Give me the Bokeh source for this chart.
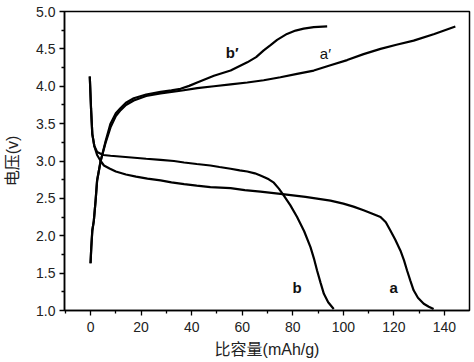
from bokeh.plotting import figure
from bokeh.models import Range1d, FixedTicker, Label, CustomJSTickFormatter
from bokeh.embed import file_html
from bokeh.resources import INLINE

# discharge curve a
a_x = [-0.3, 0.2, 0.7, 1.5, 2.6, 4.0, 5.3, 7.5, 10, 14, 18, 22.5, 27.7, 32, 37, 42, 47.4, 55.4, 61, 67.2, 75.1, 85, 94.9, 100, 104, 108, 111, 114.7, 116.8, 118.6, 120.5, 122.6, 124, 125.2, 126.5, 127.8, 129.5, 131.8, 133.8, 135.7]
a_y = [4.13, 3.7, 3.36, 3.2, 3.08, 3.0, 2.94, 2.9, 2.86, 2.82, 2.79, 2.765, 2.74, 2.715, 2.69, 2.67, 2.65, 2.637, 2.61, 2.59, 2.56, 2.52, 2.47, 2.43, 2.39, 2.34, 2.30, 2.25, 2.18, 2.07, 1.95, 1.80, 1.67, 1.535, 1.40, 1.27, 1.17, 1.09, 1.05, 1.02]
# discharge curve b
b_x = [-0.3, 0.2, 0.7, 1.5, 2.6, 5.0, 7.9, 15, 22, 27.7, 33, 37, 42, 47.4, 51, 55.4, 59, 62, 65, 67.2, 69, 70.5, 72.5, 74.5, 76.4, 79, 81.7, 84.5, 87, 88.5, 89.6, 91, 92.3, 94, 96.2]
b_y = [4.13, 3.7, 3.36, 3.2, 3.12, 3.08, 3.07, 3.05, 3.03, 3.016, 3.0, 2.98, 2.96, 2.94, 2.92, 2.896, 2.875, 2.86, 2.835, 2.806, 2.78, 2.755, 2.71, 2.63, 2.54, 2.41, 2.25, 2.06, 1.847, 1.68, 1.535, 1.37, 1.223, 1.11, 1.02]
# charge curve a'
ac_x = [0.0, 0.3, 0.7, 1.3, 2.0, 2.6, 4.0, 6.0, 7.9, 10.0, 11.9, 14.0, 17.1, 22.0, 27.7, 35.6, 42.2, 48.8, 55.4, 62.0, 68.5, 75.1, 81.7, 88.3, 94.9, 101.5, 108.0, 114.7, 121.0, 127.8, 136.0, 144.3]
ac_y = [1.633, 1.85, 2.07, 2.2, 2.47, 2.74, 3.0, 3.25, 3.45, 3.6, 3.68, 3.75, 3.81, 3.87, 3.905, 3.94, 3.975, 4.0, 4.025, 4.05, 4.08, 4.12, 4.165, 4.21, 4.28, 4.35, 4.43, 4.50, 4.555, 4.61, 4.70, 4.80]
# charge curve b'
bc_x = [0.0, 0.3, 0.7, 1.3, 2.0, 2.6, 4.0, 6.0, 7.9, 10.0, 11.9, 14.0, 17.1, 22.0, 27.7, 32.0, 35.6, 39.0, 42.2, 48.8, 55.4, 62.0, 65.5, 68.5, 71.2, 73.8, 77.7, 81.1, 84.3, 88.3, 93.6]
bc_y = [1.633, 1.85, 2.07, 2.2, 2.47, 2.74, 3.0, 3.27, 3.5, 3.64, 3.71, 3.78, 3.84, 3.89, 3.925, 3.945, 3.966, 4.005, 4.05, 4.14, 4.21, 4.32, 4.39, 4.48, 4.55, 4.62, 4.70, 4.745, 4.77, 4.79, 4.80]

x_ticks = [0, 20, 40, 60, 80, 100, 120, 140]
y_ticks = [1.0, 1.5, 2.0, 2.5, 3.0, 3.5, 4.0, 4.5, 5.0]
x_label = "比容量(mAh/g)"
y_label = "电压(v)"
curve_labels = [("b′", 56.0, 4.45, "bold"), ("a′", 92.9, 4.44, "normal"), ("b", 81.7, 1.31, "bold"), ("a", 119.9, 1.31, "bold")]

p = figure(width=474, height=362, output_backend="svg", toolbar_location=None,
           x_range=Range1d(-10.3, 149.9), y_range=Range1d(1.0, 5.0),
           min_border_left=64, min_border_right=5, min_border_top=11, min_border_bottom=52,
           background_fill_color="white", border_fill_color="white")
p.grid.visible = False
p.outline_line_color = "black"
p.outline_line_width = 1.5
p.outline_line_alpha = 1.0

for xs, ys in [(a_x, a_y), (b_x, b_y), (ac_x, ac_y), (bc_x, bc_y)]:
    p.line(xs, ys, line_color="black", line_width=2.2)

font = "Liberation Sans, Noto Sans CJK SC"
p.xaxis.ticker = FixedTicker(ticks=x_ticks, minor_ticks=[v + 10 for v in [-20] + x_ticks])
p.yaxis.ticker = FixedTicker(ticks=y_ticks, minor_ticks=[v + 0.25 for v in y_ticks])
p.yaxis.formatter = CustomJSTickFormatter(code="return tick.toFixed(1);")
for ax in [p.xaxis[0], p.yaxis[0]]:
    ax.axis_line_width = 1.5
    ax.axis_line_color = "black"
    ax.major_tick_line_width = 1.3
    ax.minor_tick_line_width = 1.3
    ax.major_tick_out = 5
    ax.major_tick_in = 0
    ax.minor_tick_out = 3
    ax.minor_tick_in = 0
    ax.major_label_text_font = font
    ax.major_label_text_font_size = "14px"
    ax.major_label_text_color = "#222222"
    ax.axis_label_text_font = font
    ax.axis_label_text_font_size = "16px"
    ax.axis_label_text_font_style = "normal"
    ax.axis_label_text_color = "#222222"
p.xaxis.axis_label = x_label
p.yaxis.axis_label = y_label
p.xaxis.major_label_standoff = 6
p.yaxis.major_label_standoff = 4
p.xaxis.axis_label_standoff = 6
p.yaxis.axis_label_standoff = 12

for txt, x, y, style in curve_labels:
    p.add_layout(Label(x=x, y=y, text=txt, text_font=font, text_font_size="15px",
                       text_font_style=style, text_align="center", text_baseline="middle",
                       text_color="#111111"))

open("out.html", "w").write(file_html(p, INLINE))
